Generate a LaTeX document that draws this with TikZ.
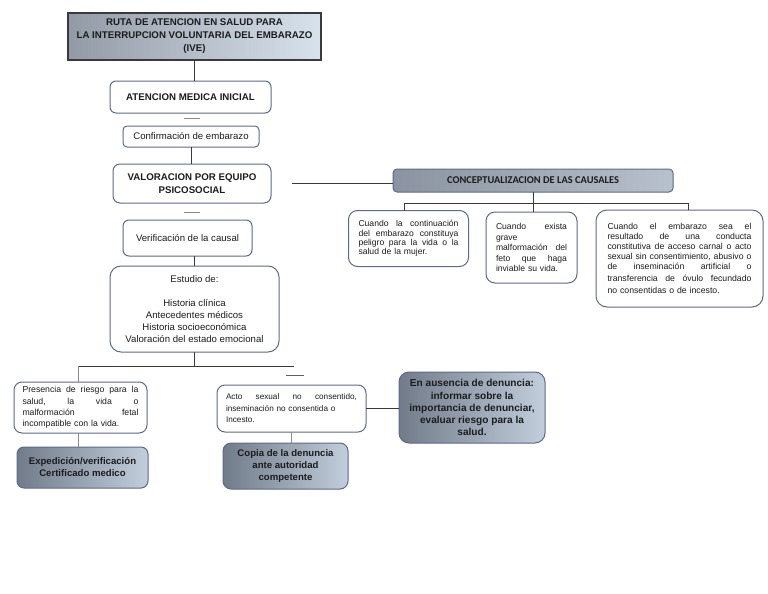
\documentclass[tikz,border=0pt]{standalone}
\usepackage{fontspec}
\setmainfont{Liberation Sans}
\newfontfamily\calib{Carlito}
\usetikzlibrary{calc}
\definecolor{bord}{HTML}{5B6B8A}
\definecolor{conncol}{HTML}{3A3A3A}
\definecolor{lightconn}{HTML}{8C8C8C}
\definecolor{txtdark}{HTML}{1C1C1C}
\newcommand{\jus}[1]{\leavevmode\hbox to \hsize{#1}}
\begin{document}
\begin{tikzpicture}[x=1pt,y=-1pt,
  every node/.style={inner sep=0pt, outer sep=0pt, anchor=center, text=txtdark},
  wbox/.style={draw=bord, line width=1pt, fill=white, rounded corners=#1},
  wbox/.default=6pt,
  gbox/.style={draw=bord, line width=1pt, rounded corners=#1, left color=gleft, right color=gright},
  gbox/.default=7pt,
  conn/.style={draw=conncol, line width=1pt},
  lconn/.style={draw=lightconn, line width=1pt},
  dashc/.style={draw=lightconn, line width=0.9pt},
  bfn/.style={font=\bfseries\fontsize{9.7}{13}\selectfont, align=center},
  rgn/.style={font=\fontsize{9.6}{12}\selectfont, align=center}]
\definecolor{gleft}{HTML}{717B8A}
\definecolor{gright}{HTML}{C2CEDB}
\useasboundingbox (0,0) rectangle (768,594);
\fill[white] (0,0) rectangle (768,594);

% title
\node[draw=conncol, line width=1.2pt, left color={rgb,255:red,146;green,154;blue,166}, right color={rgb,255:red,216;green,226;blue,236},
      minimum width=253pt, minimum height=47pt, bfn] (title) at (194.5,36.5)
  {RUTA DE ATENCION EN SALUD PARA\\LA INTERRUPCION VOLUNTARIA DEL EMBARAZO\\(IVE)};

\node[wbox=6pt, minimum width=161pt, minimum height=32pt, bfn] (atm) at (190.5,97) {ATENCION MEDICA INICIAL};
\node[wbox=4pt, minimum width=136pt, minimum height=21pt, rgn] (conf) at (191,136.5) {Confirmación de embarazo};
\node[wbox=7pt, minimum width=158pt, minimum height=39pt, bfn] (val) at (192,183.5) {VALORACION POR EQUIPO\\PSICOSOCIAL};
\node[wbox=6pt, minimum width=129pt, minimum height=36pt, rgn] (ver) at (187.5,238) {Verificación de la causal};
\node[wbox=11pt, minimum width=169pt, minimum height=86pt, rgn] (est) at (194.5,309)
  {Estudio de:\\[12pt]Historia clínica\\Antecedentes médicos\\Historia socioeconómica\\Valoración del estado emocional};

% left branch
\node[wbox=8pt, minimum width=133pt, minimum height=51pt, text width=116pt, align=left,
      font=\fontsize{8.7}{11.4}\selectfont] (pres) at (80.5,407.5)
  {\jus{Presencia\hfill de\hfill riesgo\hfill para\hfill la}\\\jus{salud,\hfill la\hfill vida\hfill o}\\\jus{malformación\hfill fetal}\\incompatible con la vida.};
\node[gbox=7pt, minimum width=131pt, minimum height=41pt, bfn, font=\bfseries\fontsize{9.6}{12}\selectfont] (exp) at (82.5,467.5)
  {Expedición/verificación\\Certificado medico};

% right branch
\node[wbox=8pt, minimum width=149pt, minimum height=47pt, text width=131pt, align=left,
      font=\fontsize{8.2}{11.5}\selectfont] (acto) at (291.5,408.5)
  {\jus{Acto\hfill sexual\hfill no\hfill consentido,}\\inseminación no consentida o\\Incesto.};
\node[gbox=8pt, minimum width=125pt, minimum height=46pt, font=\bfseries\fontsize{9.6}{11.7}\selectfont, align=center] (copia) at (285.5,466)
  {Copia de la denuncia\\ante autoridad\\competente};
\node[gbox=10pt, minimum width=146pt, minimum height=71pt, font=\bfseries\fontsize{10.1}{12.1}\selectfont, align=center] (aus) at (472,407.5)
  {En ausencia de denuncia:\\informar sobre la\\importancia de denunciar,\\evaluar riesgo para la\\salud.};

% causales
\node[gbox=4pt, left color={rgb,255:red,138;green,147;blue,159}, right color={rgb,255:red,184;green,192;blue,203},
      minimum width=280pt, minimum height=23pt, font=\calib\bfseries\fontsize{10.4}{12}\selectfont] (conc) at (533,180.5)
  {CONCEPTUALIZACION DE LAS CAUSALES};
\node[wbox=9pt, minimum width=120pt, minimum height=56pt, text width=100pt, align=left,
      font=\fontsize{8.6}{9.2}\selectfont] (c1) at (408.5,238.5)
  {\jus{Cuando\hfill la\hfill continuación}\\\jus{del\hfill embarazo\hfill constituya}\\\jus{peligro\hfill para\hfill la\hfill vida\hfill o\hfill la}\\salud de la mujer.};
\node[wbox=9pt, minimum width=91pt, minimum height=71pt, text width=71pt, align=left,
      font=\fontsize{8.6}{10.5}\selectfont] (c2) at (531.5,247.5)
  {\jus{Cuando\hfill exista}\\grave\\\jus{malformación\hfill del}\\\jus{feto\hfill que\hfill haga}\\inviable su vida.};
\node[wbox=11pt, minimum width=167pt, minimum height=97pt, text width=144pt, align=left,
      font=\fontsize{8.7}{10}\selectfont] (c3) at (679.5,258.5)
  {\jus{Cuando\hfill el\hfill embarazo\hfill sea\hfill el}\\\jus{resultado\hfill de\hfill una\hfill conducta}\\\jus{constitutiva\hfill de\hfill acceso\hfill carnal\hfill o\hfill acto}\\\jus{sexual\hfill sin\hfill consentimiento,\hfill abusivo\hfill o}\\\jus{de\hfill inseminación\hfill artificial\hfill o}\\[1.6pt]\jus{transferencia\hfill de\hfill óvulo\hfill fecundado}\\[2.4pt]no consentidas o de incesto.};

% connectors, main column
\draw[conn] (title.south) -- (title.south |- atm.north);
\draw[conn] (conf.south) -- (conf.south |- val.north);
\draw[conn] (est.north) -- (est.north |- ver.south);
\coordinate (hl) at (78,366);
\coordinate (hr) at (294,366);
\draw[conn] (est.south) -- (est.south |- hl);
\draw[conn] (hl) -- (hr);
\draw[lconn] (hl) -- (hl |- pres.north);
\draw[lconn] (hl |- pres.south) -- (hl |- exp.north);
\draw[lconn] (acto.south) -- (acto.south |- copia.north);
\draw[conn] (acto.east) -- (acto.east -| aus.west);

% valoracion to causales
\draw[conn, shorten <=21pt] (val.east) -- (val.east -| conc.west);
\coordinate (cl) at (404,203);
\coordinate (cr) at (688,203);
\draw[conn] (conc.south) -- (conc.south |- cl);
\draw[conn] (cl) -- (cr);
\draw[conn] (cl) -- (cl |- c1.north);
\draw[conn] (conc.south |- cl) -- (conc.south |- c2.north);
\draw[conn] (cr) -- (cr |- c3.north);

% small stray dashes
\draw[dashc] (184,118) -- (200,118);
\draw[dashc] (184,212) -- (200,212);
\draw[dashc, draw=conncol!80] (286,375) -- (304,375);
\end{tikzpicture}
\end{document}
